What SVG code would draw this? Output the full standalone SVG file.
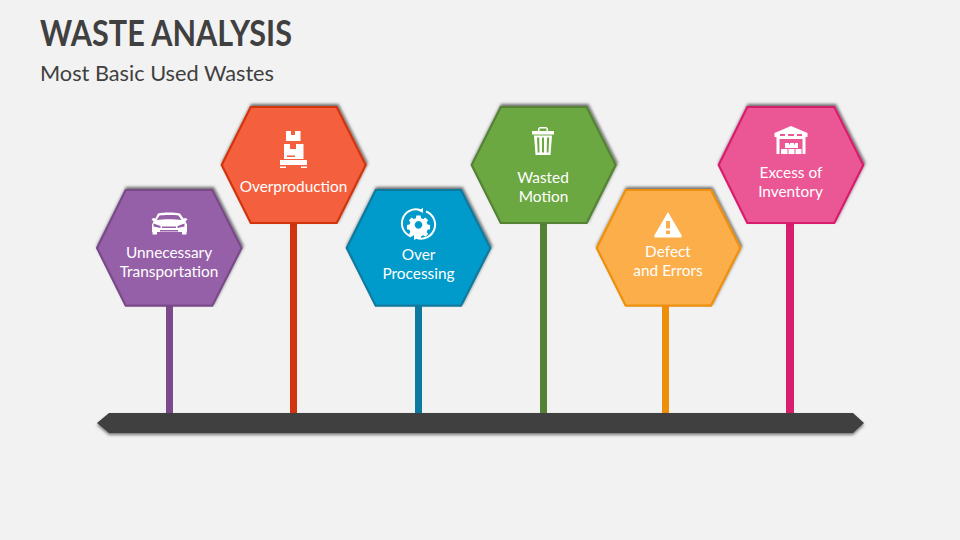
<svg xmlns="http://www.w3.org/2000/svg" width="960" height="540" viewBox="0 0 960 540">
<style>
text{font-family:"Lato","Carlito","Open Sans",sans-serif}
.title{font-size:35.5px;font-weight:700;fill:#404040}
.sub{font-size:21.5px;fill:#404040}
.lbl{font-size:15.4px;fill:#fff;text-anchor:middle}
.hex{stroke-width:2.2;stroke-linejoin:miter;filter:url(#up)}
.ic{fill:#fff}
.icl{fill:none;stroke:#fff}
</style>
<defs>
<filter id="up" x="-10%" y="-10%" width="120%" height="120%"><feDropShadow dx="1" dy="-2" stdDeviation="1.6" flood-color="#000" flood-opacity=".55"/></filter>
<filter id="down" x="-5%" y="-30%" width="110%" height="170%"><feDropShadow dx="0" dy="2" stdDeviation="1.5" flood-color="#000" flood-opacity=".5"/></filter>
</defs>
<rect width="960" height="540" fill="#f2f2f2"/>
<text class="title" x="40" y="46" textLength="252" lengthAdjust="spacingAndGlyphs">WASTE ANALYSIS</text>
<text class="sub" x="40" y="81" textLength="234" lengthAdjust="spacingAndGlyphs">Most Basic Used Wastes</text>
<g id="connectors">
<rect x="166" y="305" width="7" height="109" fill="#7a4a8a"/>
<rect x="290" y="222" width="7" height="192" fill="#d2340f"/>
<rect x="415" y="305" width="7" height="109" fill="#0b7a9e"/>
<rect x="540" y="222" width="7" height="192" fill="#548235"/>
<rect x="662" y="305" width="7" height="109" fill="#ee8f0a"/>
<rect x="786" y="222" width="8" height="192" fill="#d81f6c"/>
</g>
<g id="timeline"><polygon points="97,423 109,413 853,413 864,423 853,433 109,433" fill="#404040" filter="url(#down)"/></g>
<g id="node-transportation">
<polygon class="hex" points="97,248 125.7,190 212.3,190 241.5,248 212.3,305.7 125.7,305.7" fill="#9660a8" stroke="#7a4a8a"/>
<path class="ic" d="M158 213.5c3-1.500 19-1.500 22 0l3.500 5 2-.5 2 1.200-2 2.300 1.500 3v7.500h-.5v2.500h-4.500v-2.500h-25v2.500h-4.500v-2.500h-.5v-7.500l1.500-3-2-2.300 2-1.200 2 .5zM159.500 215.500l-3 4.500c7-1 18-1 25 0l-3-4.500c-4-.8-15-.8-19 0zM153.500 223.500v3l7 1.500v-2zM184.500 223.500l-7 2.500v2l7-1.500zM162 226.500v1.500h14v-1.500zM160 230v1.500h18v-1.500z" fill-rule="evenodd"/>
<text class="lbl" x="169" y="258">Unnecessary</text><text class="lbl" x="169" y="277">Transportation</text>
</g>
<g id="node-overproduction">
<polygon class="hex" points="221.700,165 250.700,107 336.700,107 365.700,165 336.700,223 250.700,223" fill="#f45f3c" stroke="#d2340f"/>
<path class="ic" d="M286 131h5v4h4v-4h5.500v10h-14.500zM284 144h6v5h6v-5h7.500v15h-19.500zM287 155.500v1.500h8v-1.500zM280 160h27v5h-27zM280 166.500h6v1.500h-6zM301 166.500h6v1.500h-6z" fill-rule="evenodd"/>
<text class="lbl" x="293.500" y="192">Overproduction</text>
</g>
<g id="node-processing">
<polygon class="hex" points="346.700,248 375.700,190 461,190 490.300,248 461,305.700 375.700,305.700" fill="#069acb" stroke="#0b7a9e"/>
<path class="icl" stroke-width="2" d="M411 236.500a14 14 0 0 1 9-26.500M426 211.500a14 14 0 0 1-9 26.500"/>
<path class="ic" d="M418 210.500l5-2.500v5zM419 237.500l-5 2.500v-5z"/>
<path class="ic" d="M416 214h5l.6 3 2.500 1 2.500-1.700 3.200 3.200-1.700 2.500 1 2.500 3 .6v5l-3 .6-1 2.500 1.700 2.500-3.200 3.200-2.500-1.700-2.500 1-.6 3h-5l-.6-3-2.500-1-2.500 1.700-3.200-3.200 1.700-2.500-1-2.500-3-.6v-5l3-.6 1-2.500-1.700-2.500 3.200-3.200 2.500 1.700 2.500-1zM418.500 220.500a4.500 4.500 0 1 0 .01 0z" fill-rule="evenodd" transform="translate(418.500 224.500) scale(.85) translate(-418.500 -224.500)"/>
<text class="lbl" x="418.500" y="260">Over</text><text class="lbl" x="418.500" y="279">Processing</text>
</g>
<g id="node-motion">
<polygon class="hex" points="471.700,165 500.700,107 586.700,107 615.700,165 586.700,223 500.700,223" fill="#6ca843" stroke="#548235"/>
<path class="ic" d="M532 131h22v3.500h-22zM538 131v-2.500l1.500-1.500h7l1.500 1.500v2.500h-1.500v-2.500h-7v2.500zM534 135.500h18l-1.500 19.500h-15zM537 137.500l.7 15h1.800l-.3-15zM542 137.500v15h2v-15zM547 137.500l-.3 15h1.800l.7-15z" fill-rule="evenodd"/>
<text class="lbl" x="543" y="183">Wasted</text><text class="lbl" x="543.500" y="202">Motion</text>
</g>
<g id="node-errors">
<polygon class="hex" points="596.700,248 625.700,190 711,190 740.300,248 711,305.700 625.700,305.700" fill="#fbae4a" stroke="#ee8f0a"/>
<path class="ic" d="M668 212l14 24-1 1.500h-26l-1-1.500zM666 221v7.500h4v-7.500zM666 230.500v3.500h4v-3.500z" fill-rule="evenodd"/>
<text class="lbl" x="668" y="257">Defect</text><text class="lbl" x="668" y="276">and Errors</text>
</g>
<g id="node-inventory">
<polygon class="hex" points="718.700,165 747.300,107 834.300,107 863.300,165 834.300,223 747.300,223" fill="#eb5795" stroke="#d81f6c"/>
<path class="ic" d="M791 126l16.500 7v4h-2v17h-3v-15h-23v15h-3v-17h-2v-4zM780 134v2h5v-2zM788 134v2h6v-2zM797 134v2h5v-2z" fill-rule="evenodd"/>
<path class="ic" d="M785 143h4v1.500h1v-1.500h4v1.500h1v-1.500h3v5h-13zM781 149h6.500v5h-6.500zM788.500 149h6v5h-6zM795.500 149h6v5h-6z"/>
<text class="lbl" x="791" y="178">Excess of</text><text class="lbl" x="790.500" y="197">Inventory</text>
</g>
</svg>
